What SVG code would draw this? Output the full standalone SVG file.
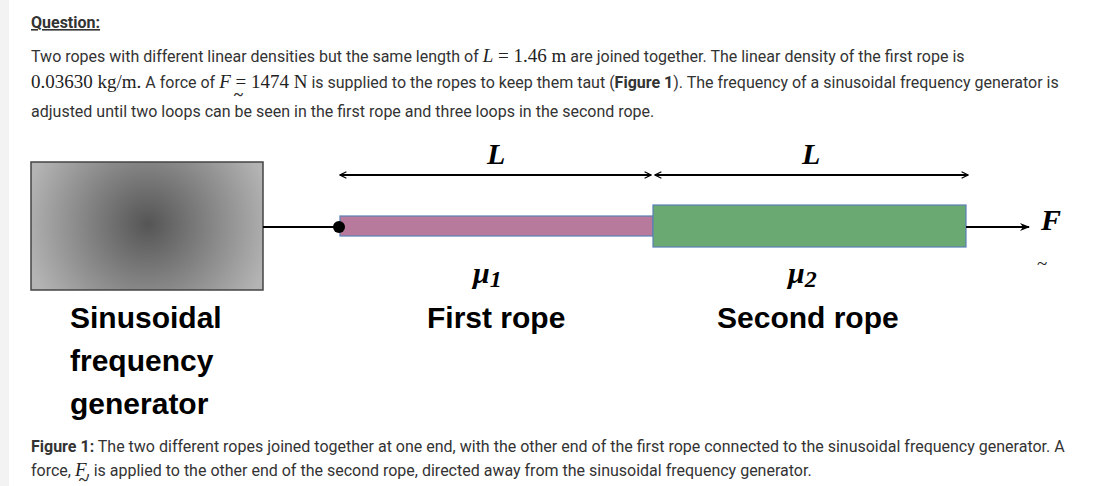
<svg xmlns="http://www.w3.org/2000/svg" width="1117" height="486" viewBox="0 0 1117 486">
<defs>
<radialGradient id="gen" gradientUnits="userSpaceOnUse" cx="148" cy="224" r="125">
<stop offset="0" stop-color="#555"/><stop offset="1" stop-color="#b4b4b4"/>
</radialGradient>
<marker id="ah" viewBox="0 0 10 10" refX="9" refY="5" markerWidth="8" markerHeight="8" orient="auto-start-reverse" markerUnits="userSpaceOnUse">
<path d="M1,1 L9,5 L1,9" fill="none" stroke="#000" stroke-width="1.5"/>
</marker>
<marker id="fa" viewBox="0 0 10 10" refX="9" refY="5" markerWidth="10" markerHeight="10" orient="auto" markerUnits="userSpaceOnUse">
<path d="M0,1 L10,5 L0,9 L3,5 Z" fill="#000"/>
</marker>
</defs>
<style>
.t{font-family:Roboto,"Liberation Sans",sans-serif;font-size:16px;fill:#333}
.m{font-family:"Liberation Serif",serif;font-size:19px;fill:#222}
.lbl{font-family:"Liberation Sans",Arial,sans-serif;font-weight:bold;font-size:30px;fill:#000}
.mi{font-family:"Liberation Serif",serif;font-style:italic;font-weight:bold;font-size:30px;fill:#000}
</style>
<rect width="1117" height="486" fill="#fff"/>
<rect width="9" height="486" fill="#f3f3f3"/>
<text x="31" y="28" class="t" font-weight="bold" text-decoration="underline" fill="#222">Question:</text>
<text x="31" y="62" class="t">Two ropes with different linear densities but the same length of <tspan class="m" font-style="italic">L</tspan><tspan class="m"> = 1.46 m</tspan> are joined together. The linear density of the first rope is</text>
<text x="31" y="88" class="t"><tspan class="m">0.03630 kg/m.</tspan> A force of <tspan class="m" font-style="italic">F</tspan><tspan class="m"> = 1474 N</tspan> is supplied to the ropes to keep them taut (<tspan font-weight="bold">Figure 1</tspan>). The frequency of a sinusoidal frequency generator is</text>
<text x="233" y="100" class="t" font-size="10">~</text>
<text x="31" y="117" class="t">adjusted until two loops can be seen in the first rope and three loops in the second rope.</text>
<g id="generator">
<rect x="31" y="162" width="232" height="128" fill="url(#gen)" stroke="#444" stroke-width="1.5"/>
<text x="70" y="328" class="lbl">Sinusoidal</text>
<text x="70" y="371" class="lbl">frequency</text>
<text x="70" y="414" class="lbl">generator</text>
</g>
<g id="rope1">
<rect x="340" y="216" width="313" height="20" fill="#b87a9c" stroke="#5b7fb5" stroke-width="1.2"/>
<text x="473" y="283" class="mi" font-size="34">μ<tspan font-size="24" dy="4">1</tspan></text>
<text x="427" y="328" class="lbl">First rope</text>
</g>
<g id="rope2">
<rect x="653" y="205" width="313" height="42" fill="#6aaa72" stroke="#5b7fb5" stroke-width="1.2"/>
<text x="788" y="283" class="mi" font-size="34">μ<tspan font-size="24" dy="4">2</tspan></text>
<text x="717" y="328" class="lbl">Second rope</text>
</g>
<g id="connectors" stroke="#000" stroke-width="2" fill="none">
<line x1="263" y1="227" x2="340" y2="227"/>
<circle cx="339" cy="227" r="6" fill="#000" stroke="none"/>
<line x1="340" y1="175" x2="651" y2="175" marker-start="url(#ah)" marker-end="url(#ah)"/>
<line x1="655" y1="175" x2="968" y2="175" marker-start="url(#ah)" marker-end="url(#ah)"/>
<line x1="966" y1="227" x2="1029" y2="227" marker-end="url(#fa)"/>
</g>
<text x="487" y="164" class="mi">L</text>
<text x="802" y="164" class="mi">L</text>
<text x="1041" y="230" class="mi" font-size="36">F</text>
<text x="1037" y="270" class="m" font-size="50">~</text>
<text x="31" y="452" class="t"><tspan font-weight="bold">Figure 1:</tspan> The two different ropes joined together at one end, with the other end of the first rope connected to the sinusoidal frequency generator. A</text>
<text x="31" y="476" class="t">force, <tspan class="m" font-style="italic">F</tspan>, is applied to the other end of the second rope, directed away from the sinusoidal frequency generator.</text>
<text x="78" y="485" class="t" font-size="9">~</text>
</svg>
